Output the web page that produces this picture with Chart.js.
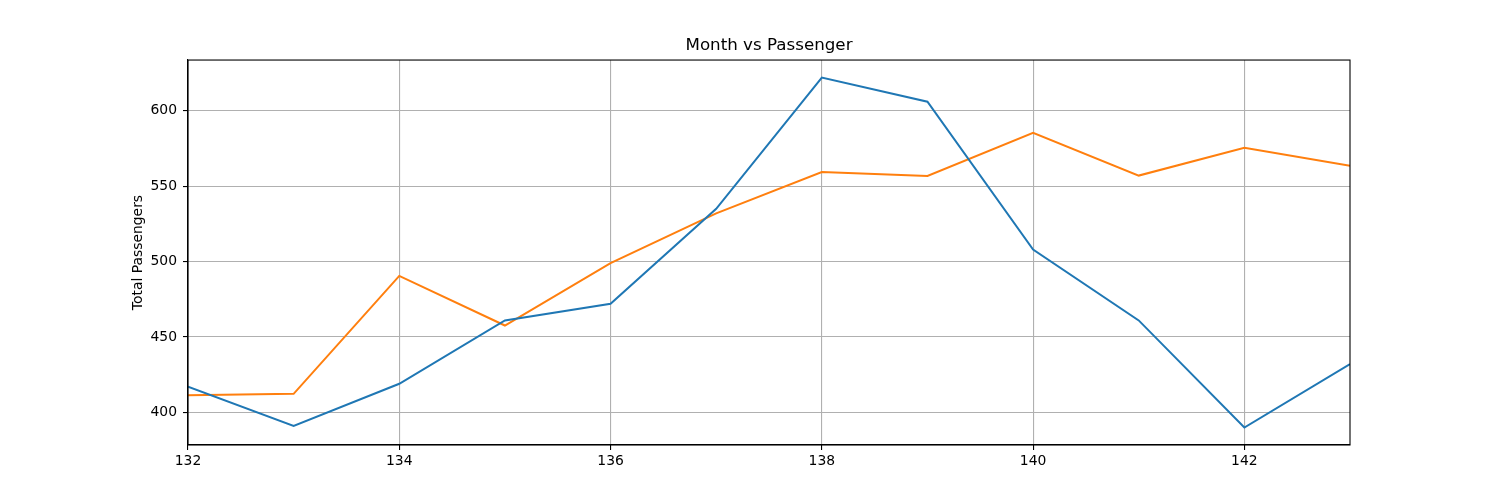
<!DOCTYPE html>
<html>
<head>
<meta charset="utf-8">
<script src="https://cdn.jsdelivr.net/npm/chart.js@4/dist/chart.umd.min.js"></script>
<style>
  html, body { margin: 0; padding: 0; background: #fff; }
</style>
</head>
<body>
<canvas id="chart" width="1500" height="500"></canvas>
<script>
const months = [132, 133, 134, 135, 136, 137, 138, 139, 140, 141, 142, 143];
const actual = [417, 391, 419, 461, 472, 535, 622, 606, 508, 461, 390, 432];
const predicted = [411.3, 412.3, 490.5, 457.6, 499, 532, 559.4, 556.7, 585.4, 557, 575.4, 563.5];

Chart.defaults.font.family = "'DejaVu Sans', sans-serif";
Chart.defaults.color = "#000";

// matplotlib draws a box round the axes
const frame = {
  id: "frame",
  afterDraw(chart) {
    const { ctx, chartArea: a } = chart;
    ctx.save();
    ctx.strokeStyle = "#000";
    ctx.lineWidth = 1.1;
    ctx.strokeRect(a.left, a.top, a.right - a.left, a.bottom - a.top);
    ctx.restore();
  },
};

const ctx = document.getElementById("chart");

const chart = new Chart(ctx, {
  type: "line",
  data: {
    datasets: [
      {
        label: "Actual",
        data: months.map((m, i) => ({ x: m, y: actual[i] })),
        borderColor: "#1f77b4",
        backgroundColor: "#1f77b4",
        borderWidth: 2,
        pointRadius: 0,
        tension: 0,
      },
      {
        label: "Predicted",
        data: months.map((m, i) => ({ x: m, y: predicted[i] })),
        borderColor: "#ff7f0e",
        backgroundColor: "#ff7f0e",
        borderWidth: 2,
        pointRadius: 0,
        tension: 0,
      },
    ],
  },
  options: {
    responsive: false,
    animation: false,
    devicePixelRatio: 1,
    layout: { padding: { left: 130, right: 150, top: 30, bottom: 0 } },
    plugins: {
      legend: { display: false },
      tooltip: { enabled: false },
      title: {
        display: true,
        text: "Month vs Passenger",
        fullSize: false,
        font: { size: 16.7, weight: "normal" },
        color: "#000",
        padding: { top: 6, bottom: 4 },
      },
    },
    scales: {
      x: {
        type: "linear",
        position: "bottom",
        min: 132,
        max: 143,
        ticks: { stepSize: 2, includeBounds: false, padding: 3, font: { size: 13.9 }, maxRotation: 0 },
        grid: { color: "#b0b0b0", lineWidth: 1.1, tickLength: 5, tickColor: "#000" },
        border: { color: "#000", width: 1.1 },
        afterFit(scale) { scale.height = 55; },
      },
      y: {
        min: 378.4,
        max: 633.6,
        ticks: { stepSize: 50, includeBounds: false, padding: 6, font: { size: 13.9 } },
        grid: { color: "#b0b0b0", lineWidth: 1.1, tickLength: 5, tickColor: "#000" },
        border: { color: "#000", width: 1.1 },
        title: { display: true, text: "Total Passengers", font: { size: 13.9 }, padding: 0 },
        afterFit(scale) { scale.width = 58; },
      },
    },
  },
  plugins: [frame],
});
</script>
</body>
</html>
